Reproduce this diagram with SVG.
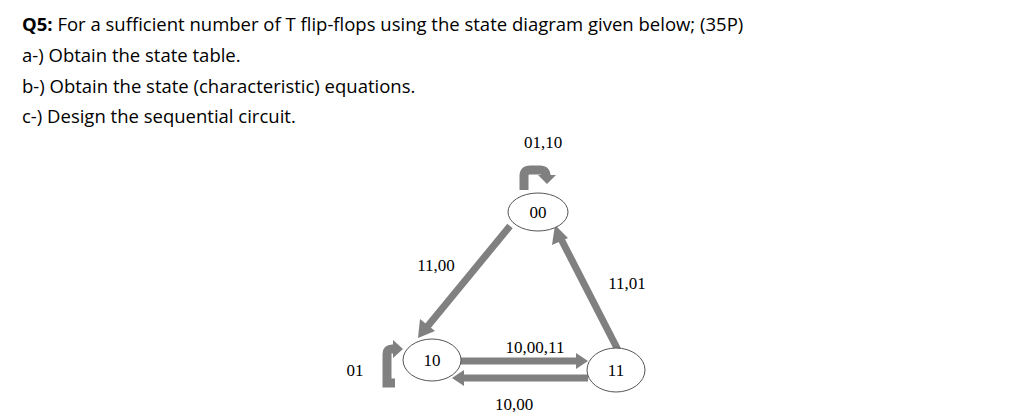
<svg xmlns="http://www.w3.org/2000/svg" width="1036" height="412" viewBox="0 0 1036 412">
<style>
.h{font-family:"Open Sans","Liberation Sans",sans-serif;font-size:18.5px;fill:#000}
.t{font-family:"Liberation Serif","Times New Roman",serif;font-size:17px;fill:#000}
.n{fill:#fff;stroke:#555;stroke-width:1}
.c{stroke:#808080;stroke-width:7;fill:none}
.l{stroke:#808080;stroke-width:9;fill:none}
.a{fill:#808080}
</style>
<rect width="1036" height="412" fill="#fff"/>
<text class="h" x="22" y="31"><tspan font-weight="bold">Q5:</tspan> For a sufficient number of T flip-flops using the state diagram given below; (35P)</text>
<text class="h" x="22" y="62">a-) Obtain the state table.</text>
<text class="h" x="22" y="93">b-) Obtain the state (characteristic) equations.</text>
<text class="h" x="22" y="123">c-) Design the sequential circuit.</text>
<g id="connectors">
<path class="l" d="M524,190 V176 Q524,170 530,170 H540 Q546,170 546,176"/><polygon class="a" points="538,175 556,175 547,184"/>
<line class="c" x1="510" y1="226" x2="427" y2="327"/><polygon class="a" points="418,338 420,319 435,331"/>
<line class="c" x1="618" y1="350" x2="560" y2="237"/><polygon class="a" points="555,225 568,238 552,245"/>
<line class="c" x1="461" y1="361" x2="576" y2="361"/><polygon class="a" points="588,361 576,353 576,369"/>
<line class="c" x1="588" y1="378" x2="463" y2="378"/><polygon class="a" points="452,378 464,370 464,386"/>
<path class="l" d="M395,383 H387 V354 Q387,349 392,349 H394"/><polygon class="a" points="393,340 403,349 393,358"/>
</g>
<g id="n00"><ellipse class="n" cx="538" cy="212" rx="30" ry="19"/><text class="t" x="538" y="218" text-anchor="middle">00</text></g>
<g id="n10"><ellipse class="n" cx="432" cy="360" rx="29" ry="21"/><text class="t" x="432" y="366" text-anchor="middle">10</text></g>
<g id="n11"><ellipse class="n" cx="616" cy="370" rx="29" ry="22"/><text class="t" x="616" y="376" text-anchor="middle">11</text></g>
<g id="labels">
<text class="t" x="543" y="148" text-anchor="middle">01,10</text>
<text class="t" x="436" y="271" text-anchor="middle">11,00</text>
<text class="t" x="627" y="289" text-anchor="middle">11,01</text>
<text class="t" x="535" y="353" text-anchor="middle">10,00,11</text>
<text class="t" x="514" y="410" text-anchor="middle">10,00</text>
<text class="t" x="355" y="376" text-anchor="middle">01</text>
</g>
</svg>
